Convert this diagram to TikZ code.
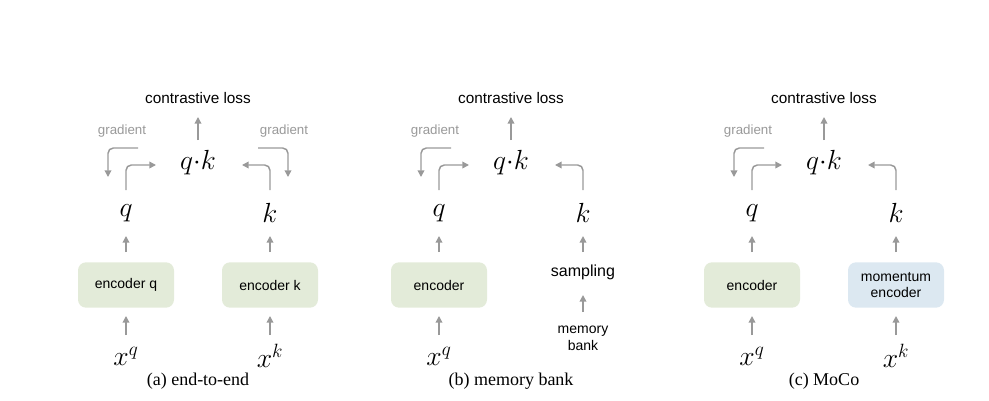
\documentclass[tikz,border=0pt]{standalone}
\usepackage{fontspec}
\usetikzlibrary{arrows.meta}
\newfontfamily\sff{Liberation Sans}
\newfontfamily\serf{Liberation Serif}
\definecolor{gr}{HTML}{999999}
\definecolor{encg}{HTML}{E3EBD9}
\definecolor{encb}{HTML}{DCE8F1}
\begin{document}
\begin{tikzpicture}[x=0.75pt,y=-0.75pt,
  arr/.style={draw=gr,line width=1.1pt,-{Triangle[length=5pt,width=5pt]},rounded corners=4pt},
  enc/.style={rounded corners=6pt,minimum width=72pt,minimum height=34pt,font=\sff\fontsize{10.5}{12}\selectfont,align=center,inner sep=1pt},
  lbl/.style={font=\sff\fontsize{11.5}{13}\selectfont},
  grad/.style={font=\sff\fontsize{10}{12}\selectfont,text=gr},
  mth/.style={font=\fontsize{20.5}{23}\selectfont},
  captxt/.style={font=\serf\fontsize{13.5}{15}\selectfont}]
\useasboundingbox (0,0) rectangle (989,400);
\foreach \o/\p in {0/a,313/b,626/c}{
  \begin{scope}[xshift=\o*0.75pt]
  \node[lbl] (\p loss) at (198,98) {contrastive loss};
  \node[mth] (\p qk) at (198,163) {$q{\cdot}k$};
  \node[mth] (\p q) at (126,213) {$q$};
  \node[mth] (\p k) at (270,213) {$k$};
  \node[grad] (\p gl) at (122,131) {gradient};
  \coordinate (\p u0) at (198,140); \coordinate (\p u1) at (198,117);
  \draw[arr] (\p u0) -- (\p u1);
  \coordinate (\p f0) at (126,190); \coordinate (\p f1) at (126,165); \coordinate (\p f2) at (156,165);
  \draw[arr] (\p f0) -- (\p f1) -- (\p f2);
  \coordinate (\p g0) at (138,148); \coordinate (\p g1) at (108,148); \coordinate (\p g2) at (108,177);
  \draw[arr] (\p g0) -- (\p g1) -- (\p g2);
  \coordinate (\p h0) at (270,190); \coordinate (\p h1) at (270,165); \coordinate (\p h2) at (242,165);
  \draw[arr] (\p h0) -- (\p h1) -- (\p h2);
  \node[mth] (\p xq) at (126,356) {$x^q$};
  \draw[arr] (126,335) -- (126,316);
  \draw[arr] (126,252) -- (126,236);
  \draw[arr] (270,252) -- (270,236);
  \end{scope}}
% panel a
\node[enc,fill=encg] (aeq) at (126,285) {encoder q};
\node[enc,fill=encg] (aek) at (270,285) {encoder k};
\node[grad] (agr) at (284,131) {gradient};
\coordinate (ar0) at (258,148); \coordinate (ar1) at (288,148); \coordinate (ar2) at (288,177);
\draw[arr] (ar0) -- (ar1) -- (ar2);
\node[mth] (axk) at (270,356) {$x^k$};
\draw[arr] (270,335) -- (270,316);
\node[captxt] (acap) at (198,381) {(a) end-to-end};
% panel b
\node[enc,fill=encg] (beq) at (439,285) {encoder};
\node[lbl,font=\sff\fontsize{12}{14}\selectfont] (bsam) at (583,272) {sampling};
\node[font=\sff\fontsize{10.5}{13}\selectfont,align=center] (bmem) at (583,338) {memory\\bank};
\draw[arr] (583,312) -- (583,295);
\node[captxt] (bcap) at (511,381) {(b) memory bank};
% panel c
\node[enc,fill=encg] (ceq) at (752,285) {encoder};
\node[enc,fill=encb] (cek) at (896,285) {momentum\\encoder};
\node[mth] (cxk) at (896,356) {$x^k$};
\draw[arr] (896,335) -- (896,316);
\node[captxt] (ccap) at (824,381) {(c) MoCo};
\end{tikzpicture}
\end{document}
